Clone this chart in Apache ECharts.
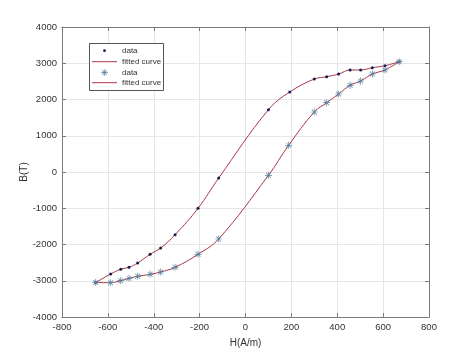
<!DOCTYPE html>
<html><head><meta charset="utf-8">
<script src="https://cdn.jsdelivr.net/npm/echarts@6/dist/echarts.min.js"></script>
<style>html,body{margin:0;padding:0;background:#fff}#c{width:474px;height:357px}</style>
</head><body><div id="c"></div>
<script>
// Upper branch (dots)
const hUpper = [-653, -588, -544, -508, -470, -416, -370, -307, -207, -117, 100, 193, 300, 354, 406, 456, 502, 553, 608, 670];
const bUpper = [-3050, -2814, -2684, -2629, -2510, -2270, -2097, -1730, -1001, -166, 1719, 2207, 2565, 2629, 2703, 2814, 2814, 2877, 2932, 3043];
// Lower branch (asterisks)
const hLower = [-653, -588, -544, -508, -470, -416, -370, -307, -207, -117, 100, 188, 300, 354, 406, 456, 502, 553, 608, 670];
const bLower = [-3050, -3054, -2999, -2933, -2877, -2822, -2759, -2629, -2270, -1848, -91, 736, 1655, 1912, 2152, 2392, 2510, 2703, 2814, 3043];
const xRange = [-800, 800, 200];
const yRange = [-4000, 4000, 1000];
const legendNames = ['data', 'fitted curve', 'data ', 'fitted curve '];

const pairs = (xs, ys) => xs.map((x, i) => [x, ys[i]]);
const upper = pairs(hUpper, bUpper);
const lower = pairs(hLower, bLower);

const FONT = 'Liberation Sans, Arial, sans-serif';
const AX = '#7a7a7a';
const TXT = '#333333';
const CURVE = '#a8384a';
const STAR = '#5b82a0';
const DOT = '#1b1b4d';
const asterisk = 'path://M-1,-10L1,-10L1,10L-1,10Z M-10,-1L10,-1L10,1L-10,1Z M-6.3,-7.7L7.7,6.3L6.3,7.7L-7.7,-6.3Z M7.7,-6.3L-6.3,7.7L-7.7,6.3L6.3,-7.7Z';

function xAx(pos, main) {
  return {
    type: 'value', position: pos, min: xRange[0], max: xRange[1], interval: xRange[2],
    axisLine: { show: true, onZero: false, lineStyle: { color: AX, width: 1 } },
    axisTick: { show: true, inside: true, length: 4, lineStyle: { color: AX } },
    axisLabel: { show: main, color: TXT, fontSize: 9.5, fontFamily: FONT, margin: 5, formatter: v => String(v) },
    splitLine: { show: main, lineStyle: { color: '#e6e6e6', width: 1 } },
    name: main ? 'H(A/m)' : '', nameLocation: 'middle', nameGap: 21,
    nameTextStyle: { color: TXT, fontSize: 10, fontFamily: FONT }
  };
}
function yAx(pos, main) {
  return {
    type: 'value', position: pos, min: yRange[0], max: yRange[1], interval: yRange[2],
    axisLine: { show: true, onZero: false, lineStyle: { color: AX, width: 1 } },
    axisTick: { show: true, inside: true, length: 4, lineStyle: { color: AX } },
    axisLabel: { show: main, color: TXT, fontSize: 9.5, fontFamily: FONT, margin: 5, formatter: v => String(v) },
    splitLine: { show: main, lineStyle: { color: '#e6e6e6', width: 1 } },
    name: main ? 'B(T)' : '', nameLocation: 'middle', nameGap: 33, nameMoveOverlap: false,
    nameTextStyle: { color: TXT, fontSize: 10, fontFamily: FONT }
  };
}

const rowCenters = [50.7, 61.7, 72.7, 82.7];
const legendHeights = [3.5, 1, 8.5, 1];
const legends = legendNames.map((n, i) => ({
  data: [i % 2 === 1 ? { name: n, icon: 'rect' } : { name: n }],
  orient: 'vertical', left: 92, top: rowCenters[i] - 4,
  itemWidth: 25, itemHeight: legendHeights[i], padding: 0, selectedMode: false, z: 10,
  textStyle: { fontSize: 8, color: TXT, fontFamily: FONT }
}));

const chart = echarts.init(document.getElementById('c'), null, { renderer: 'canvas' });
chart.setOption({
  animation: false,
  backgroundColor: '#fff',
  grid: { left: 62, right: 45, top: 27, bottom: 40, containLabel: false },
  xAxis: [xAx('bottom', true), xAx('top', false)],
  yAxis: [yAx('left', true), yAx('right', false)],
  legend: legends,
  graphic: [{ type: 'rect', left: 89, top: 43, shape: { width: 74, height: 47 },
    style: { fill: '#fff', stroke: '#555', lineWidth: 1 }, z: 5 }],
  series: [
    { name: legendNames[0], type: 'line', data: upper, symbol: 'circle', symbolSize: 3, showSymbol: true,
      lineStyle: { width: 0 }, itemStyle: { color: DOT }, z: 4 },
    { name: legendNames[1], type: 'line', data: upper, smooth: 0.4, showSymbol: false, symbol: 'none',
      lineStyle: { color: CURVE, width: 1 }, itemStyle: { color: CURVE }, z: 3 },
    { name: legendNames[2], type: 'line', data: lower, symbol: asterisk, symbolSize: 7, showSymbol: true,
      lineStyle: { width: 0 }, itemStyle: { color: STAR }, z: 4 },
    { name: legendNames[3], type: 'line', data: lower, smooth: 0.4, showSymbol: false, symbol: 'none',
      lineStyle: { color: CURVE, width: 1 }, itemStyle: { color: CURVE }, z: 3 }
  ]
});
</script></body></html>
